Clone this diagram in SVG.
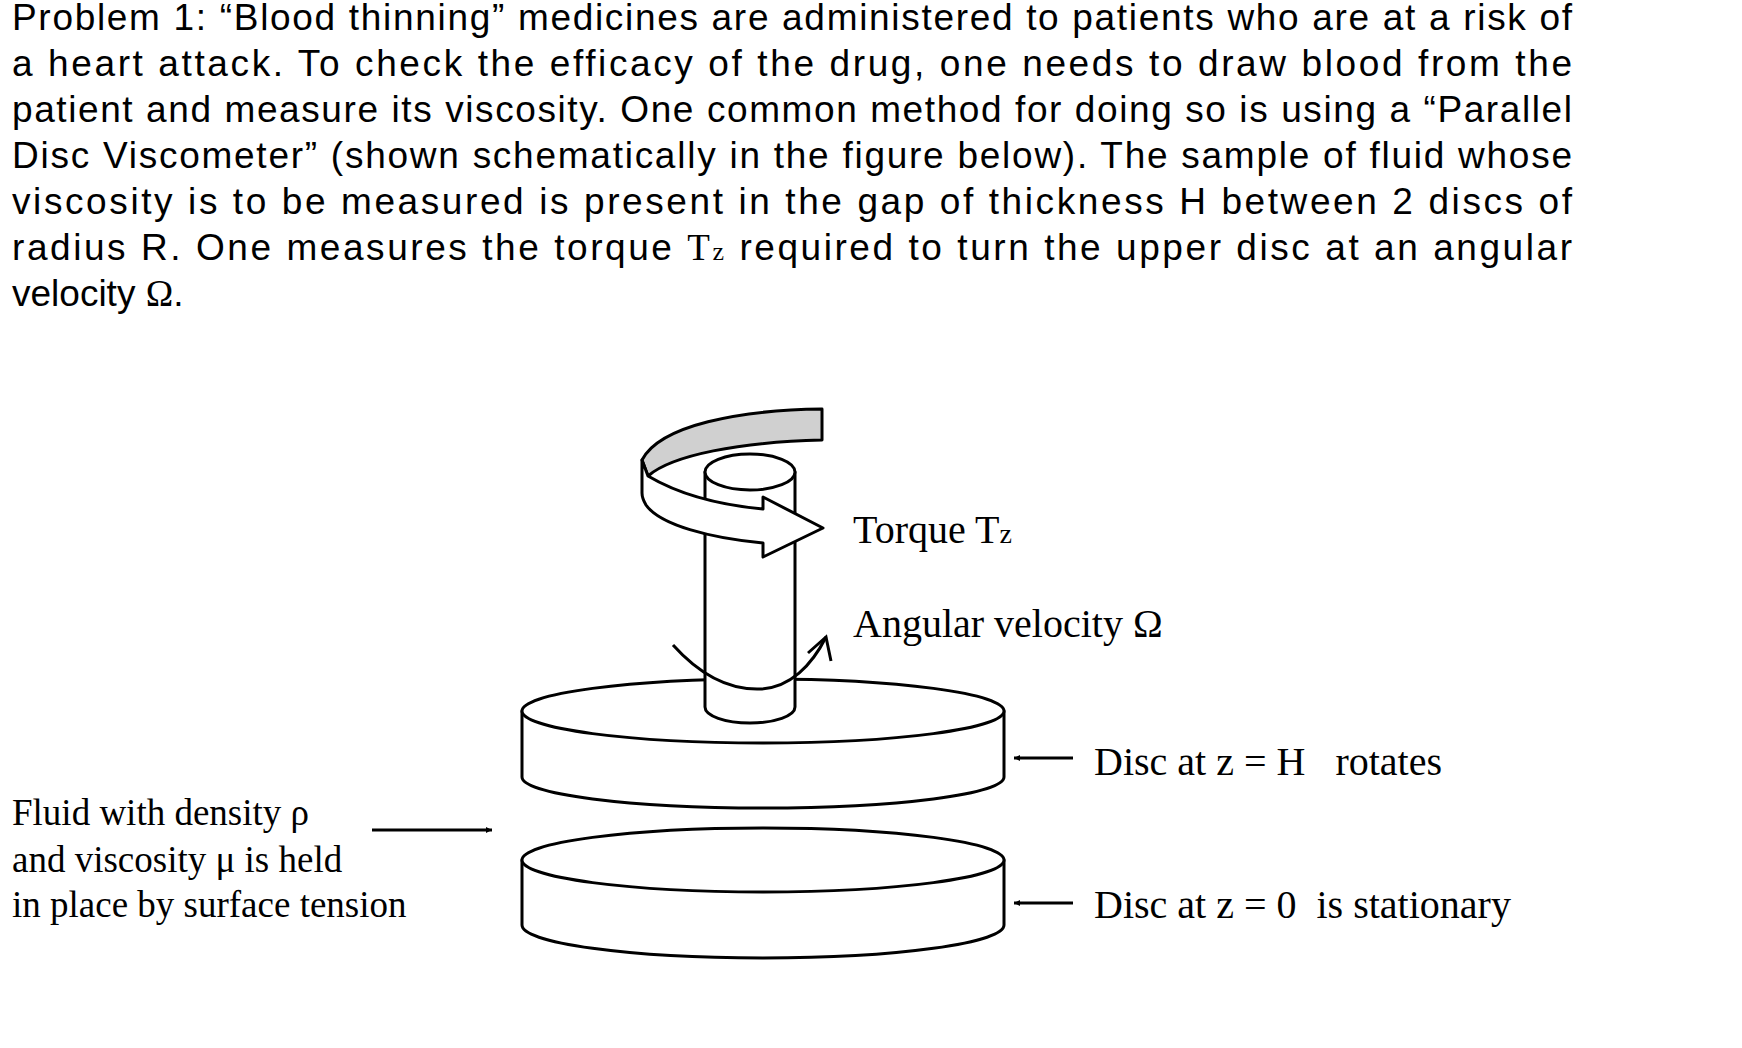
<svg xmlns="http://www.w3.org/2000/svg" width="1742" height="1048" viewBox="0 0 1742 1048">
<style>
.p{font-family:"Liberation Sans",Arial,sans-serif;font-size:37px;fill:#000}
.t{font-family:"Liberation Serif","Times New Roman",serif;fill:#000}
.s{fill:#fff;stroke:#000;stroke-width:3;stroke-linejoin:round}
.l{fill:none;stroke:#000;stroke-width:3}
</style>
<defs>
<marker id="ah" viewBox="0 0 10 10" refX="10" refY="5" markerWidth="6" markerHeight="6" orient="auto" markerUnits="userSpaceOnUse" style="overflow:visible">
<path d="M0,0 L10,5 L0,10 Z" fill="#000"/>
</marker>
</defs>
<rect width="1742" height="1048" fill="#fff"/>
<g id="paragraph">
<text class="p" x="12" y="30" textLength="1560" lengthAdjust="spacing">Problem 1:  “Blood thinning” medicines are administered to patients who are at a risk of</text>
<text class="p" x="12" y="76" textLength="1560" lengthAdjust="spacing">a heart attack. To check the efficacy of the drug, one needs to draw blood from the</text>
<text class="p" x="12" y="122" textLength="1560" lengthAdjust="spacing">patient and measure its viscosity. One common method for doing so is using a “Parallel</text>
<text class="p" x="12" y="168" textLength="1560" lengthAdjust="spacing">Disc Viscometer” (shown schematically in the figure below). The sample of fluid whose</text>
<text class="p" x="12" y="214" textLength="1560" lengthAdjust="spacing">viscosity is to be measured is present in the gap of thickness H between 2 discs of</text>
<text class="p" x="12" y="260" textLength="1560" lengthAdjust="spacing">radius R. One measures the torque <tspan class="t">T</tspan><tspan class="t" font-size="26">z</tspan> required to turn the upper disc at an angular</text>
<text class="p" x="12" y="306">velocity <tspan class="t">Ω</tspan>.</text>
</g>
<g id="lower-disc">
<path class="s" d="M522,860 L522,925 A241,33 0 0 0 1004,925 L1004,860 Z"/>
<ellipse class="s" cx="763" cy="860" rx="241" ry="32"/>
</g>
<g id="upper-disc">
<path class="s" d="M522,711 L522,777 A241,31 0 0 0 1004,777 L1004,711 Z"/>
<ellipse class="s" cx="763" cy="711" rx="241" ry="32"/>
</g>
<g id="torque-band">
<path d="M642,460 C660,425 740,410 822,409 L822,440 C740,442 672,455 648,476 Z" fill="#d0d0d0" stroke="#000" stroke-width="3" stroke-linejoin="round"/>
</g>
<g id="shaft">
<path class="s" d="M705,472 L705,707 A45,16 0 0 0 795,707 L795,472 Z"/>
<ellipse class="s" cx="750" cy="472" rx="45" ry="18"/>
</g>
<g id="torque-arrow">
<path class="s" d="M642,460 L648,476 C680,495 720,505 763,509 L763,497 L823,528 L763,557 L763,543 C710,538 660,525 646,505 C643,500 642,496 642,493 Z"/>
</g>
<g id="connectors">
<path class="l" stroke-width="2.5" d="M673,645 C700,675 730,690 760,689 C790,688 812,665 826,637"/>
<path class="l" stroke-width="2.5" d="M808,653 L826,637 L831,661"/>
<line class="l" x1="1073" y1="758" x2="1014" y2="758" marker-end="url(#ah)"/>
<line class="l" x1="1073" y1="903" x2="1014" y2="903" marker-end="url(#ah)"/>
<line class="l" x1="372" y1="830" x2="492" y2="830" marker-end="url(#ah)"/>
</g>
<g id="labels">
<text class="t" x="853" y="543" font-size="40">Torque T<tspan font-size="28">z</tspan></text>
<text class="t" x="853" y="637" font-size="40">Angular velocity Ω</text>
<text class="t" x="1094" y="775" font-size="40" xml:space="preserve">Disc at z = H   rotates</text>
<text class="t" x="1094" y="918" font-size="40" xml:space="preserve">Disc at z = 0  is stationary</text>
<text class="t" x="12" y="825" font-size="37">Fluid with density ρ</text>
<text class="t" x="12" y="872" font-size="37">and viscosity μ is held</text>
<text class="t" x="12" y="917" font-size="37">in place by surface tension</text>
</g>
</svg>
